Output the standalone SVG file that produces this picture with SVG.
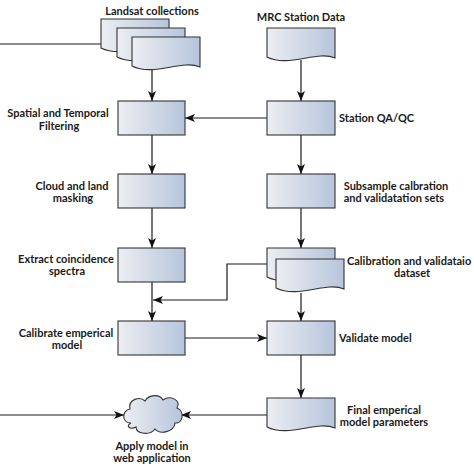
<svg xmlns="http://www.w3.org/2000/svg" width="474" height="474" viewBox="0 0 474 474">
<defs>
<linearGradient id="g" x1="0" y1="0" x2="1" y2="0">
<stop offset="0" stop-color="#eceef2"/>
<stop offset="1" stop-color="#b6c5dc"/>
</linearGradient>
<marker id="ah" markerUnits="userSpaceOnUse" markerWidth="11" markerHeight="8" refX="10" refY="4" orient="auto">
<path d="M0,0 L10,4 L0,8 L2.5,4 Z" fill="#111"/>
</marker>
<path id="doc" d="M0,0 H68 V30 C50,22 22,40 0,29 Z"/>
</defs>
<style>
.shape{fill:url(#g);stroke:#333;stroke-width:1.1}
.ln{fill:none;stroke:#1a1a1a;stroke-width:1.2}
.arr{marker-end:url(#ah)}
text{font-family:Lato,"Liberation Sans",sans-serif;font-size:11px;font-weight:bold;fill:#1a1a1a}
.c{text-anchor:middle}
</style>
<g id="connectors">
<path class="ln" d="M0,44 H101"/>
<path class="ln arr" d="M152,70 V101"/>
<path class="ln arr" d="M301,60 V101"/>
<path class="ln arr" d="M267,118 H185"/>
<path class="ln arr" d="M152,135 V174"/>
<path class="ln arr" d="M301,135 V174"/>
<path class="ln arr" d="M152,208 V248"/>
<path class="ln arr" d="M301,208 V248"/>
<path class="ln arr" d="M152,282 V321"/>
<path class="ln arr" d="M267,264 H227 V300 H153"/>
<path class="ln arr" d="M301,293 V321"/>
<path class="ln arr" d="M185,338 H267"/>
<path class="ln arr" d="M301,355 V398"/>
<path class="ln arr" d="M0,415 H124"/>
<path class="ln arr" d="M267,415 H181"/>
</g>
<g id="landsat">
<use href="#doc" class="shape" x="101" y="19"/>
<use href="#doc" class="shape" x="117" y="28"/>
<use href="#doc" class="shape" x="132" y="37"/>
<text class="c" x="152" y="15">Landsat collections</text>
</g>
<g id="mrc">
<use href="#doc" class="shape" x="267" y="28"/>
<text class="c" x="301" y="21">MRC Station Data</text>
</g>
<g id="spatial">
<rect class="shape" x="118" y="101" width="67" height="34"/>
<text class="c" x="58" y="117">Spatial and Temporal</text>
<text class="c" x="59" y="130">Filtering</text>
</g>
<g id="qaqc">
<rect class="shape" x="267" y="101" width="68" height="34"/>
<text x="339" y="122">Station QA/QC</text>
</g>
<g id="cloudmask">
<rect class="shape" x="118" y="174" width="67" height="34"/>
<text class="c" x="72" y="190">Cloud and land</text>
<text class="c" x="73" y="202">masking</text>
</g>
<g id="subsample">
<rect class="shape" x="267" y="174" width="68" height="34"/>
<text class="c" x="396" y="190">Subsample calbration</text>
<text class="c" x="394" y="202">and validatation sets</text>
</g>
<g id="extract">
<rect class="shape" x="118" y="248" width="67" height="34"/>
<text class="c" x="66" y="263">Extract coincidence</text>
<text class="c" x="67" y="275">spectra</text>
</g>
<g id="caldata">
<use href="#doc" class="shape" x="267" y="248"/>
<use href="#doc" class="shape" x="276" y="259"/>
<text x="347" y="265">Calibration and validataio</text>
<text class="c" x="412" y="277">dataset</text>
</g>
<g id="calibrate">
<rect class="shape" x="118" y="321" width="67" height="34"/>
<text class="c" x="66" y="337">Calibrate emperical</text>
<text class="c" x="67" y="349">model</text>
</g>
<g id="validate">
<rect class="shape" x="267" y="321" width="68" height="34"/>
<text x="339" y="342">Validate model</text>
</g>
<g id="final">
<use href="#doc" class="shape" x="267" y="398"/>
<text class="c" x="384" y="414">Final emperical</text>
<text class="c" x="384" y="426">model parameters</text>
</g>
<g id="apply">
<path class="shape" d="M131,423 C121,423 122,410 130,409 C128,399 140,396 145,401 C149,394 160,394 163,400 C170,395 182,400 177,408 C185,411 183,424 175,423 C174,432 160,435 155,429 C150,436 136,434 136,427 C130,430 125,426 131,423 Z"/>
<text class="c" x="152" y="450">Apply model in</text>
<text class="c" x="152" y="462">web application</text>
</g>
</svg>
